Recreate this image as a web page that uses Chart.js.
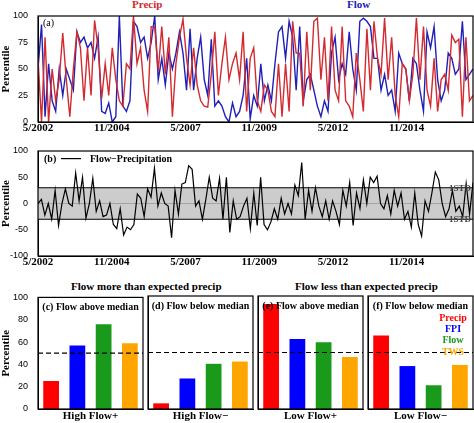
<!DOCTYPE html>
<html><head><meta charset="utf-8">
<script src="https://cdn.jsdelivr.net/npm/chart.js@4"></script>
<style>
body{margin:0;background:#fff;width:474px;height:423px;position:relative;overflow:hidden}
canvas{position:absolute}
.t{position:absolute;font:bold 11px "Liberation Serif";white-space:nowrap}
</style></head><body>
<div class="t" style="left:132px;top:-2px;color:#d02a2a">Precip</div>
<div class="t" style="left:347px;top:-2px;color:#2222bb">Flow</div>
<div class="t" style="left:71px;top:280px">Flow more than expected precip</div>
<div class="t" style="left:295px;top:280px">Flow less than expected precip</div>
<canvas id="a" style="left:0;top:0" width="474" height="140"></canvas>
<canvas id="b" style="left:0;top:140px" width="474" height="135"></canvas>
<canvas id="c" style="left:0;top:290px" width="144" height="133"></canvas>
<canvas id="d" style="left:147px;top:290px" width="107" height="133"></canvas>
<canvas id="e" style="left:257px;top:290px" width="107" height="133"></canvas>
<canvas id="f" style="left:367px;top:290px" width="107" height="133"></canvas>
<script>
// monthly series from 5/2002, values in percentile
const precip = [60,0,80,0,50,20,40,84,40,5,50,85,70,20,70,25,96,70,22,55,25,70,40,20,15,55,50,100,55,70,30,10,90,90,48,90,45,80,5,55,80,97,60,35,70,35,20,15,14,45,85,25,55,80,40,55,65,40,85,10,60,70,20,10,35,30,10,5,55,5,55,10,95,65,65,15,85,30,95,98,40,80,20,90,30,20,90,20,15,5,65,40,10,88,30,95,60,45,98,40,80,25,5,55,50,20,45,98,40,90,30,15,60,10,40,45,30,82,75,78,5,80,20,25];
const flow = [50,92,5,55,20,10,50,25,50,40,30,85,75,80,70,75,60,80,10,8,18,0,5,100,15,10,20,95,90,75,80,60,75,100,40,60,35,65,50,65,85,65,30,88,30,60,80,40,25,78,15,20,15,5,0,18,5,10,25,60,3,25,15,55,20,35,20,55,85,90,60,95,80,30,90,20,40,45,30,15,5,20,10,65,80,40,55,45,85,50,30,95,98,95,90,60,60,30,45,25,30,10,65,55,50,20,60,55,30,10,85,70,90,40,20,30,65,60,45,50,95,40,45,50];
const diff = [0,8,-22,0,-30,25,-42,0,28,0,-5,58,5,50,-28,0,48,-15,5,-25,-22,0,-40,-48,-10,-60,-45,-50,-40,18,10,-25,28,12,67,-5,20,0,-5,-65,25,-20,37,40,72,65,-5,5,-30,8,50,10,5,48,-30,50,-55,5,-30,-25,-5,10,-48,20,-42,50,-40,-50,-35,-10,-30,10,-20,0,-20,35,15,78,-30,25,-15,30,-5,-25,5,-30,5,-15,-40,25,-5,40,-42,20,-10,45,0,50,40,52,0,-10,15,-20,25,-5,20,-30,-15,-45,20,-40,-62,5,-15,20,60,45,0,-25,-10,25,-15,-5,-25,38,-20,40];
const tickLabels = ['5/2002','11/2004','5/2007','11/2009','5/2012','11/2014'];
const barCats = ['Precip','FPI','Flow','TWS'];
const barColors = ['#ff0000','#0000ff','#1a9a1a','#ffa500'];
const panels = [
  {id:'c', title:'(c) Flow above median', group:'High Flow+', vals:[25,57,76,59]},
  {id:'d', title:'(d) Flow below median', group:'High Flow\u2212', vals:[5,27,40,42]},
  {id:'e', title:'(e) Flow above median', group:'Low Flow+', vals:[93,62,59,46]},
  {id:'f', title:'(f) Flow below median', group:'Low Flow\u2212', vals:[65,38,21,39]}
];
const MONTHS = 177;

const serif = 'Liberation Serif';
const pts = arr => arr.map((v, i) => ({x: i * MONTHS / (arr.length - 1), y: v}));
const yTitle = {display:true, text:'Percentile', font:{family:serif, weight:'bold', size:11}, color:'#000', padding:0};
const tickFont = {family:'Liberation Sans', size:9};
const fixW = w => s => { s.width = w };
const fixH = h => s => { s.height = h };

function xAxis() {
  return {
    type:'linear', min:0, max:MONTHS, afterFit:fixH(18),
    afterBuildTicks: s => { s.ticks = tickLabels.map((_, i) => ({value:i*30})) },
    ticks:{callback:(v) => tickLabels[v/30], font:{family:serif, weight:'bold', size:11}, color:'#000', maxRotation:0, padding:0},
    grid:{display:false, drawTicks:false}, border:{color:'#000', width:1}
  };
}
const boxPlugin = {
  id:'box',
  afterDraw(ch) {
    const {ctx, chartArea:a} = ch;
    ctx.save(); ctx.strokeStyle='#000'; ctx.lineWidth=1.2;
    ctx.strokeRect(a.left, a.top, a.right-a.left, a.bottom-a.top);
    ctx.restore();
  }
};

Chart.defaults.animation = false;
Chart.defaults.responsive = false;
Chart.defaults.plugins.legend.display = false;
Chart.defaults.plugins.tooltip.enabled = false;

new Chart(document.getElementById('a'), {
  type:'line',
  data:{datasets:[
    {data:pts(precip), borderColor:'#d42a2f', borderWidth:1.4, pointRadius:0, tension:0},
    {data:pts(flow), borderColor:'#2020b8', borderWidth:1.4, pointRadius:0, tension:0}
  ]},
  options:{
    layout:{padding:{top:16, right:1}},
    scales:{
      x:xAxis(),
      y:{min:0, max:100, afterFit:fixW(38), ticks:{stepSize:25, font:tickFont, color:'#000', padding:2},
         grid:{display:false}, border:{color:'#000'}, title:yTitle}
    }
  },
  plugins:[boxPlugin, {id:'lab', afterDraw(ch){
    const c = ch.ctx; c.save(); c.font='10px '+serif; c.fillStyle='#000';
    c.fillText('(a)', ch.chartArea.left+5, ch.chartArea.top+10); c.restore();
  }}]
});

new Chart(document.getElementById('b'), {
  type:'line',
  data:{datasets:[
    {data:[{x:0,y:30},{x:MONTHS,y:30}], borderColor:'#000', borderWidth:1.2, pointRadius:0, backgroundColor:'#cccccc', fill:'+1', order:3},
    {data:[{x:0,y:-30},{x:MONTHS,y:-30}], borderColor:'#000', borderWidth:1.2, pointRadius:0, order:2},
    {data:[{x:0,y:0},{x:MONTHS,y:0}], borderColor:'#999', borderWidth:0.8, pointRadius:0, order:1},
    {data:pts(diff), borderColor:'#000', borderWidth:1.2, pointRadius:0, tension:0, order:0}
  ]},
  options:{
    layout:{padding:{top:11, right:1}},
    scales:{
      x:Object.assign(xAxis(), {afterFit:fixH(19)}),
      y:{min:-100, max:100, afterFit:fixW(38), ticks:{stepSize:25, font:tickFont, color:'#000', padding:2},
         grid:{display:false}, border:{color:'#000'}, title:yTitle}
    }
  },
  plugins:[boxPlugin, {id:'lab', afterDraw(ch){
    const c = ch.ctx, a = ch.chartArea, y = ch.scales.y;
    c.save(); c.font='bold 10px '+serif; c.fillStyle='#000';
    c.fillText('(b)', a.left+6, a.top+11);
    c.fillText('Flow\u2212Precipitation', a.left+52, a.top+11);
    c.fillRect(a.left+23, a.top+7, 20, 1.2);
    c.fillStyle='#444'; c.font='bold 9px '+serif;
    c.fillText('1STD', a.right-24, y.getPixelForValue(30)+3);
    c.fillText('1STD', a.right-24, y.getPixelForValue(-30)+3);
    c.restore();
  }}]
});

panels.forEach((p, k) => {
  const first = k === 0;
  new Chart(document.getElementById(p.id), {
    type:'bar',
    data:{labels:barCats, datasets:[{data:p.vals, backgroundColor:barColors, barPercentage:0.6, categoryPercentage:1}]},
    options:{
      layout:{padding:{top:6, right:1}},
      scales:{
        x:{afterFit:fixH(14), ticks:{display:false}, grid:{display:false, drawTicks:false}, border:{color:'#000'},
           title:{display:true, text:p.group, font:{family:serif, weight:'bold', size:11}, color:'#000', padding:0}},
        y:{min:0, max:100, afterFit:fixW(first ? 38 : 1),
           ticks:{display:first, stepSize:20, font:tickFont, color:'#000', padding:2},
           grid:{display:false}, border:{color:'#000'}, title:first ? yTitle : {display:false}}
      }
    },
    plugins:[boxPlugin, {id:'lab', afterDraw(ch){
      const c = ch.ctx, a = ch.chartArea, y = ch.scales.y;
      c.save();
      c.strokeStyle='#000'; c.lineWidth=1.2; c.setLineDash([5,3]);
      c.beginPath(); c.moveTo(a.left, y.getPixelForValue(50)); c.lineTo(a.right, y.getPixelForValue(50)); c.stroke();
      c.font='bold 10px '+serif; c.fillStyle='#000'; c.textAlign='center';
      c.fillText(p.title, (a.left+a.right)/2, a.top+13);
      if (p.id === 'f') {
        barCats.forEach((n, i) => {
          c.fillStyle = barColors[i];
          c.fillText(n, a.right-20, y.getPixelForValue(78 - i*10));
        });
      }
      c.restore();
    }}]
  });
});
</script>
</body></html>
